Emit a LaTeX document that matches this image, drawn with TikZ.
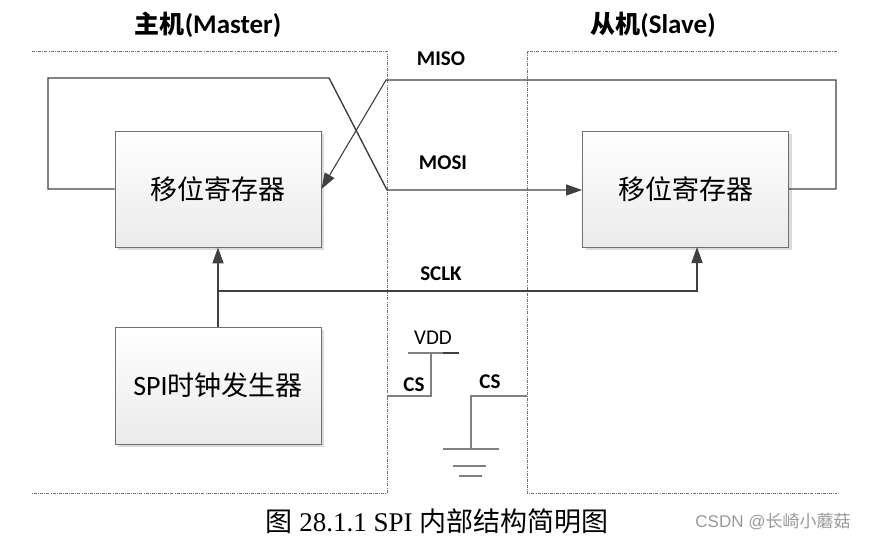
\documentclass[tikz,border=0pt]{standalone}
\usepackage{fontspec}
\setmainfont{Carlito}
\newfontfamily\cjk{Noto Sans CJK SC}
\newfontfamily\tnr{Liberation Serif}
\newfontfamily\arialf{Liberation Sans}
\usetikzlibrary{arrows.meta,shadows,calc}
\definecolor{ln}{HTML}{404040}
\definecolor{fr}{HTML}{707070}
\tikzset{
  regbox/.style={draw=fr, line width=0.9pt, top color=white, bottom color=black!8,
    minimum width=206pt, minimum height=116pt, inner sep=0pt,
    drop shadow={shadow xshift=3pt, shadow yshift=-3pt, fill=black!14, opacity=1}},
  frame/.style={draw=black!55, line width=0.7pt, dash pattern=on 3pt off 1.2pt on 0.8pt off 1.2pt},
  wire/.style={draw=ln, line width=1.4pt},
  thinwire/.style={draw=ln, line width=1.1pt},
  cswire/.style={draw=black!50, line width=1.3pt},
  arr/.style={-{Triangle[length=16pt,width=11pt]}},
  sig/.style={font=\bfseries\fontsize{21}{24}\selectfont, inner sep=0pt},
  ttl/.style={font=\bfseries\fontsize{27}{30}\selectfont, inner sep=0pt}
}
\begin{document}
\begin{tikzpicture}[x=1pt,y=-1pt]
\useasboundingbox (0,0) rectangle (874,541);
% frames
\draw[frame] (32,51) -- (387,51) -- (387,493) -- (32,493);
\draw[frame] (837,51) -- (527,51) -- (527,493) -- (837,493);
% titles
\node[ttl] (tm) at (208,25) {{\cjk\bfseries\fontsize{25}{28}\selectfont 主机}(Master)};
\node[ttl] (ts) at (653,25) {{\cjk\bfseries\fontsize{25}{28}\selectfont 从机}(Slave)};
% boxes
\node[regbox] (mreg) at (218,189) {\cjk\fontsize{27}{30}\selectfont 移位寄存器};
\node[regbox] (sreg) at (685.5,189) {\cjk\fontsize{27}{30}\selectfont 移位寄存器};
\node[regbox, minimum height=117pt] (clk) at (218,385.5) {\fontsize{28}{30}\selectfont SPI{\cjk\fontsize{27}{30}\selectfont 时钟发生器}};
% coordinates
\coordinate (ml1) at (48,189);
\coordinate (ml2) at (48,78);
\coordinate (ml3) at (329,78);
\coordinate (mo1) at (387,190);
\coordinate (sl1) at (836,189);
\coordinate (sl2) at (836,80);
\coordinate (mi1) at (386,80);
\coordinate (jn) at (218,291);
\coordinate (sclkT) at (697,247);
% MOSI
\draw[wire, arr] (mreg.west) -- (ml1) -- (ml2) -- (ml3) -- (mo1) -- (sreg.west |- mo1);
% MISO
\draw[thinwire, arr] (sreg.east) -- (sl1) -- (sl2) -- (mi1) -- (mreg.east);
% SCLK
\draw[wire, line width=1.8pt, arr] (clk.north) -- (mreg.south);
\draw[wire, line width=1.8pt, arr] (jn) -| (sclkT);
% labels
\node[sig] (lmiso) at (441,59) {MISO};
\node[sig] (lmosi) at (443,163) {MOSI};
\node[sig] (lsclk) at (441,274) {SCLK};
% CS / VDD
\coordinate (v1) at (408,353);
\coordinate (v2) at (443,353);
\coordinate (v3) at (459,353);
\coordinate (c1) at (387,396);
\coordinate (c2) at (431,396);
\coordinate (c3) at (431,353);
\coordinate (d1) at (527,396);
\coordinate (d2) at (471,396);
\coordinate (g0) at (471,449);
\draw[cswire] (v1) -- (v2);
\draw[draw=ln, line width=1.6pt] (v2) -- (v3);
\draw[cswire] (c1) -- (c2) -- (c3);
\draw[cswire] (d1) -- (d2) -- (g0);
\draw[cswire] (443,449) -- (499,449);
\draw[cswire] (453,466) -- (486,466);
\draw[cswire] (459,476) -- (482,476);
\node[font=\fontsize{21}{24}\selectfont, inner sep=0pt] (lvdd) at (433,338) {VDD};
\node[sig] (lcs1) at (414,385) {CS};
\node[sig] (lcs2) at (490,382) {CS};
% caption
\node[font=\tnr\fontsize{27}{30}\selectfont, inner sep=0pt] (cap) at (437,521) {{\cjk 图} 28.1.1 SPI {\cjk 内部结构简明图}};
\node[font=\arialf\fontsize{17}{20}\selectfont, text=black!40, inner sep=0pt] (wm) at (773,522) {CSDN @{\cjk 长崎小蘑菇}};
\end{tikzpicture}
\end{document}
